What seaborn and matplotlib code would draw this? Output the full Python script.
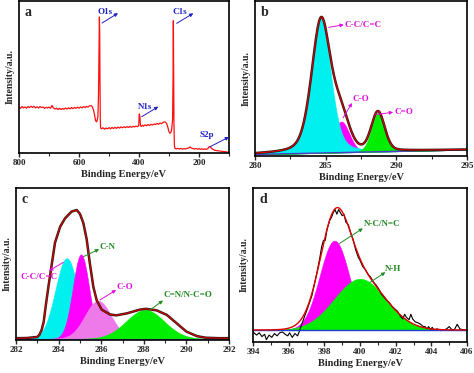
import numpy as np
import pandas as pd
import matplotlib
matplotlib.use("Agg")
import matplotlib.pyplot as plt
from matplotlib.ticker import MultipleLocator
import seaborn as sns

# 1) DATA (read off the figure)
# a) XPS survey spectrum
survey_ev = [800, 795, 790, 785, 780, 775, 770, 765, 760, 755, 750, 745, 740, 735, 730,
             725, 720, 715, 710, 705, 700, 695, 690, 686, 680, 675, 670, 665, 660, 655,
             650, 645, 640, 635, 630, 625, 620, 615, 610, 605, 600, 595, 590, 585, 580,
             575, 570, 565, 560, 556, 552, 548, 545, 542, 540, 537, 535, 533, 532, 531,
             530, 529, 528, 525, 520, 515, 510, 505, 500, 495, 490, 485, 480, 475, 470,
             465, 460, 455, 450, 445, 440, 435, 430, 425, 420, 415, 410, 405, 401, 399,
             397, 395, 392, 388, 385, 380, 375, 370, 365, 360, 355, 350, 345, 340, 335,
             330, 325, 320, 315, 312, 308, 304, 300, 297, 294, 291, 288, 286.5, 285.5, 284.5,
             283.5, 282, 280, 275, 270, 265, 260, 255, 250, 245, 240, 235, 230, 226, 220,
             215, 210, 205, 200, 195, 190, 185, 180, 175, 170, 166, 162, 158, 150, 140,
             130, 120, 110, 100]
survey_int = [.300, .294, .306, .297, .303, .295, .305, .299, .308, .300, .307, .297, .304, .296, .306,
              .299, .303, .294, .301, .296, .302, .294, .313, .298, .289, .295, .286, .294, .286, .293,
              .288, .296, .289, .297, .291, .299, .292, .300, .294, .302, .295, .303, .297, .305, .299,
              .307, .302, .310, .312, .305, .285, .250, .215, .205, .210, .240, .380, .700, .895, .800,
              .450, .220, .165, .159, .166, .157, .164, .159, .167, .159, .168, .161, .169, .162, .171,
              .164, .172, .166, .173, .167, .174, .168, .175, .169, .176, .171, .177, .173, .180, .257,
              .240, .180, .175, .183, .177, .185, .179, .187, .181, .189, .184, .191, .187, .195, .189,
              .197, .193, .201, .205, .203, .195, .170, .140, .130, .135, .155, .220, .500, .870, .600,
              .200, .050, .030, .027, .031, .026, .030, .025, .029, .026, .031, .032, .040, .033, .029,
              .026, .030, .025, .029, .024, .028, .023, .027, .024, .030, .042, .040, .030, .020, .015,
              .013, .010, .008, .005]
survey_names = ["O1s", "C1s", "N1s", "S2p"]

# b) C1s high resolution, first sample
b_names = ["C-C/C=C", "C-O", "C=O"]
b_center = [284.68, 286.1, 288.7]
b_height = [0.865, 0.20, 0.25]
b_fwhm = [1.6, 1.35, 1.1]
b_eta = [0.35, 0.1, 0.15]   # Lorentzian share of each fitted peak
b_base = [0.010, 0.040]     # background at 280 and 295 eV

# c) C1s high resolution, second sample
c_names = ["C-C/C=C", "C-N", "C-O", "C=N/N-C=O"]
c_center = [284.38, 285.05, 285.85, 288.06]
c_height = [0.53, 0.555, 0.25, 0.19]
c_fwhm = [1.25, 0.9, 1.45, 2.1]
c_base = 0.008
c_env_ev = [282.0, 282.5, 283.0, 283.1, 283.2, 283.3, 283.41, 283.52, 283.68, 283.83, 284.07,
            284.3, 284.61, 284.85, 285.0, 285.16, 285.32, 285.47, 285.63, 285.79, 286.02, 286.41,
            286.7, 287.2, 287.82, 288.1, 288.6, 289.08, 289.54, 290.0, 290.5, 290.9, 291.5, 292.0]
c_env_int = [.012, .013, .020, .035, .065, .120, .240, .350, .500, .640, .745,
             .800, .845, .855, .830, .770, .660, .500, .350, .260, .200, .168,
             .162, .175, .200, .205, .195, .165, .110, .055, .025, .015, .012, .012]

# d) N1s high resolution
d_names = ["N-C/N=C", "N-H"]
d_center = [398.57, 400.0]
d_height = [0.58, 0.332]
d_fwhm = [1.95, 3.4]
d_base = 0.078
d_raw_ev = [394.0, 394.2, 394.35, 394.5, 394.65, 394.75, 394.9, 395.05, 395.2, 395.35, 395.5,
            395.65, 395.8, 395.95, 396.05, 396.2, 396.35, 396.5, 396.6, 396.75, 396.9, 397.0,
            397.15, 397.3, 397.45, 397.6, 397.75, 397.85, 397.95, 398.05, 398.15, 398.3, 398.4,
            398.5, 398.6, 398.7, 398.8, 398.9, 399.0, 399.1, 399.2, 399.35, 399.5, 399.6, 399.75,
            399.9, 400.0, 400.15, 400.3, 400.45, 400.6, 400.75, 400.9, 401.05, 401.2, 401.35,
            401.5, 401.65, 401.8, 401.95, 402.1, 402.25, 402.4, 402.5, 402.6, 402.75, 402.85,
            402.95, 403.1, 403.25, 403.4, 403.55, 403.65, 403.75, 403.85, 403.95, 404.05, 404.15,
            404.3, 404.5, 404.7, 404.85, 405.0, 405.15, 405.3, 405.45, 405.6, 405.75, 405.9, 406.0]
d_raw_int = [.065, .045, .060, .035, .050, .015, .045, .030, .055, .040, .060,
             .065, .050, .040, .060, .030, .055, .040, .070, .120, .170, .200,
             .250, .300, .380, .460, .550, .620, .660, .660, .730, .790, .810,
             .840, .860, .830, .860, .840, .820, .830, .780, .760, .700, .670, .600,
             .550, .530, .490, .470, .440, .420, .390, .370, .345, .310, .290,
             .270, .255, .230, .215, .200, .170, .150, .180, .160, .145, .180,
             .150, .130, .125, .115, .100, .100, .085, .100, .080, .095, .075,
             .085, .080, .078, .085, .100, .080, .082, .115, .085, .080, .078, .080]

# 2) STYLE
sns.set_theme(style="ticks")
plt.rcParams["font.family"] = ["Liberation Serif", "DejaVu Serif"]
plt.rcParams["font.weight"] = "bold"
plt.rcParams["axes.linewidth"] = 1.2

CYAN, MAGENTA, VIOLET, GREEN = "#00F0F0", "#FF00FF", "#EE7AE9", "#00EE00"
LBL_BLUE, LBL_MAG, LBL_GREEN = "#2020C8", "#E010E0", "#228B22"


def peak(x, center, height, fwhm, eta=0.0):
    g = np.exp(-4 * np.log(2) * ((x - center) / fwhm) ** 2)
    lo = 1 / (1 + 4 * ((x - center) / fwhm) ** 2)
    return height * ((1 - eta) * g + eta * lo)


def style_axes(ax, xlim, major, minor, letter):
    ax.set_xlim(*xlim)
    ax.set_ylim(0, 1)
    ax.set_yticks([])
    ax.xaxis.set_major_locator(MultipleLocator(major))
    ax.xaxis.set_minor_locator(MultipleLocator(minor))
    ax.tick_params(axis="x", which="major", direction="out", length=3, width=1,
                   labelsize=6.5, pad=1.5)
    ax.tick_params(axis="x", which="minor", direction="out", length=1.8, width=0.8)
    for lab in ax.get_xticklabels():
        lab.set_fontweight("bold")
    ax.set_xlabel("Binding Energy/eV", fontsize=7.5, fontweight="bold", labelpad=2)
    ax.set_ylabel("Intensity/a.u.", fontsize=7, fontweight="bold", labelpad=3)
    for sp in ax.spines.values():
        sp.set_color("black")
    ax.text(0.028, 0.965, letter, transform=ax.transAxes, fontsize=10,
            fontweight="bold", va="top", ha="left")


def add_label(ax, text, pos, tail, head, color):
    ax.annotate("", xy=head, xytext=tail, annotation_clip=False,
                arrowprops=dict(arrowstyle="-|>", color=color, lw=0.7,
                                mutation_scale=5, shrinkA=0, shrinkB=0))
    ax.text(pos[0], pos[1], text, color=color, fontsize=6.5, fontweight="bold",
            ha="left", va="center")


fig = plt.figure(figsize=(4.74, 3.73), dpi=100)
ax_a = fig.add_axes([0.0401, 0.5898, 0.4430, 0.4075])
ax_b = fig.add_axes([0.5380, 0.5818, 0.4473, 0.4155])
ax_c = fig.add_axes([0.0338, 0.0885, 0.4494, 0.4075])
ax_d = fig.add_axes([0.5338, 0.0831, 0.4515, 0.4129])

# 3) PANEL a: survey
df_a = pd.DataFrame({"ev": survey_ev, "intensity": survey_int})
sns.lineplot(data=df_a, x="ev", y="intensity", ax=ax_a, color="#FF1010", lw=0.9,
             estimator=None)
style_axes(ax_a, (800, 100), 200, 100, "a")
a_pos = [(536.7, .928), (286.7, .928), (403.3, .303), (196.7, .118)]
a_tail = [(523.3, .855), (274.4, .853), (391, .239), (163.3, .041)]
a_head = [(470, .92), (219, .919), (335.6, .305), (100, .105)]
for name, p, t, h in zip(survey_names, a_pos, a_tail, a_head):
    add_label(ax_a, name, p, t, h, LBL_BLUE)

# 4) PANEL b: C1s
xb = np.linspace(280, 295, 800)
base_b = np.interp(xb, [280, 295], b_base)
comps_b = [peak(xb, c, h, f, e) for c, h, f, e in zip(b_center, b_height, b_fwhm, b_eta)]
for i, col in [(1, MAGENTA), (0, CYAN), (2, GREEN)]:
    ax_b.fill_between(xb, base_b, base_b + comps_b[i], color=col, lw=0.4, edgecolor=col)
env_b = base_b + np.sum(comps_b, axis=0)
sns.lineplot(x=xb, y=base_b, ax=ax_b, color="#4B3CC8", lw=1.0, estimator=None)
sns.lineplot(x=xb, y=env_b, ax=ax_b, color="#202020", lw=1.8, estimator=None)
sns.lineplot(x=xb, y=env_b, ax=ax_b, color="#D00000", lw=0.9, estimator=None)
style_axes(ax_b, (280, 295), 5, 2.5, "b")
b_pos = [(286.35, .847), (286.9, .37), (289.85, .282)]
b_tail = [(285.21, .83), (286.23, .246), (288.51, .267)]
b_head = [(286.28, .847), (286.86, .342), (289.77, .282)]
for name, p, t, h in zip(b_names, b_pos, b_tail, b_head):
    add_label(ax_b, name, p, t, h, LBL_MAG)

# 5) PANEL c: C1s
xc = np.linspace(282, 292, 800)
comps_c = [peak(xc, c, h, f) for c, h, f in zip(c_center, c_height, c_fwhm)]
for comp, col in zip(comps_c, [CYAN, MAGENTA, VIOLET, GREEN]):
    ax_c.fill_between(xc, c_base, c_base + comp, color=col, lw=0.4, edgecolor=col)
df_c = pd.DataFrame({"ev": c_env_ev, "intensity": c_env_int})
ax_c.axhline(c_base, color="#7B68EE", lw=0.8)
sns.lineplot(data=df_c, x="ev", y="intensity", ax=ax_c, color="#202020", lw=1.8,
             estimator=None)
sns.lineplot(data=df_c, x="ev", y="intensity", ax=ax_c, color="#D00000", lw=0.9,
             estimator=None)
style_axes(ax_c, (282, 292), 2, 1, "c")
c_pos = [(282.19, .417), (285.94, .614), (286.73, .351), (288.92, .296)]
c_tail = [(284.22, .511), (285.16, .548), (285.94, .263), (288.29, .197)]
c_head = [(283.55, .455), (285.9, .597), (286.7, .329), (288.9, .26)]
c_cols = [LBL_MAG, LBL_GREEN, LBL_MAG, LBL_GREEN]
for name, p, t, h, col in zip(c_names, c_pos, c_tail, c_head, c_cols):
    add_label(ax_c, name, p, t, h, col)

# 6) PANEL d: N1s
xd = np.linspace(394, 406, 800)
comps_d = [peak(xd, c, h, f) for c, h, f in zip(d_center, d_height, d_fwhm)]
for comp, col in zip(comps_d, [MAGENTA, GREEN]):
    ax_d.fill_between(xd, d_base, d_base + comp, color=col, lw=0.4, edgecolor=col)
env_d = d_base + np.sum(comps_d, axis=0)
df_d = pd.DataFrame({"ev": d_raw_ev, "intensity": d_raw_int})
sns.lineplot(data=df_d, x="ev", y="intensity", ax=ax_d, color="black", lw=0.8,
             estimator=None)
ax_d.axhline(d_base, color="#1F3FD0", lw=1.0)
sns.lineplot(x=xd, y=env_d, ax=ax_d, color="#E00000", lw=1.0, estimator=None)
style_axes(ax_d, (394, 406), 2, 1, "d")
d_pos = [(400.2, .764), (401.42, .474)]
d_tail = [(398.85, .64), (400.57, .388)]
d_head = [(400.16, .738), (401.42, .453)]
for name, p, t, h in zip(d_names, d_pos, d_tail, d_head):
    add_label(ax_d, name, p, t, h, LBL_GREEN)

fig.savefig("out.png", dpi=100)
